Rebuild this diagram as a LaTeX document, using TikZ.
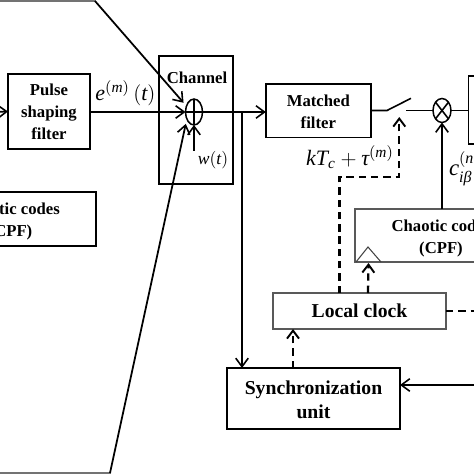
\documentclass[tikz,border=0pt]{standalone}
\usepackage{amsmath}
\usepackage{fontspec}
\setmainfont{Liberation Serif}
\usetikzlibrary{shapes.geometric,arrows.meta,positioning,calc}
\newcommand{\ivar}[1]{\text{\itshape #1}}

\begin{document}
\begin{tikzpicture}[
  x=0.02cm, y=-0.02cm,
  box/.style={rectangle, draw=black, line width=0.85pt, inner sep=0pt,
               outer sep=0pt, align=center},
  thinbox/.style={box, draw=black!65, line width=0.6pt},
  boxtext/.style={inner sep=0pt, outer sep=0pt, align=center,
               font=\fontsize{9.5}{12.5}\selectfont\bfseries},
  bigtext/.style={boxtext, font=\fontsize{11.2}{14}\selectfont\bfseries},
  offbox/.style={rectangle, draw=black!55, line width=1.1pt, inner sep=0pt,
               outer sep=0pt, minimum width=4cm, minimum height=1cm},
  oval/.style={ellipse, draw=black, line width=0.85pt, inner sep=0pt,
               outer sep=0pt},
  arr/.style={-{Straight Barb[length=1.7mm,width=2.5mm,line width=0.9pt]},
               line width=1pt, draw=black},
  wire/.style={line width=0.9pt, draw=black},
  dasharr/.style={-{Straight Barb[length=1.6mm,width=2.4mm,line width=1.1pt]},
               line width=1.3pt, draw=black, dash pattern=on 4.2pt off 2.8pt},
  sym/.style={inner sep=0pt, outer sep=0pt}
]
\useasboundingbox (0,0) rectangle (474,474);
\clip (0,0) rectangle (474,474);

%% Sources cut by the page edge
\node[offbox, anchor=south east] (srcup) at (95,1) {};
\node[offbox, anchor=north east] (srcdn) at (110,473) {};
\coordinate (leftin) at (-12,112);

%% Transmitter side
\node[box, minimum width=1.64cm, minimum height=1.5cm] (pulse) at (49,111.5) {};
\node[boxtext] (pulsetxt) at (pulse.center) {Pulse\\shaping\\filter};
\node[box, minimum width=3.42cm, minimum height=1.08cm] (txcode) at (10.5,219) {};
\node[boxtext, yshift=-1.5pt] (txcodetxt) at (txcode.center) {Chaotic codes\\(CPF)};

%% Channel
\node[box, minimum width=1.48cm, minimum height=2.56cm] (chan) at (196,120) {};
\node[oval, minimum width=0.34cm, minimum height=0.52cm] (sum) at (194,112) {};
\node[boxtext, above=0.42cm of sum.north, anchor=center, xshift=0.06cm]
  (chanlbl) {Channel};
\coordinate[below=0.52cm of sum.south] (wsrc);
\node[sym, font=\fontsize{10}{12}\selectfont] (wlbl) at (213,160)
  {$\ivar{w}(\ivar{t})$};
\node[sym, font=\fontsize{12.5}{15}\selectfont] (elbl) at (125.5,93)
  {$\ivar{e}^{(\ivar{m})}\,(\ivar{t})$};

%% Receiver side
\node[box, minimum width=2.1cm, minimum height=1.07cm] (match) at (318.3,110.5) {};
\node[boxtext, yshift=-1pt] (matchtxt) at (match.center) {Matched\\filter};
\coordinate (swa) at (387,110.5);
\coordinate (swb) at (411,98.3);
\coordinate (swc) at (406,110.5);
\node[oval, minimum width=0.36cm, minimum height=0.48cm] (mix) at (442,110.5) {};
\node[box, minimum width=1.4cm, minimum height=1.36cm, anchor=west] (detect)
  at (468.5,110) {};
\node[thinbox, minimum width=3.44cm, minimum height=1.06cm] (rxcode) at (441,235.5) {};
\node[boxtext, yshift=-1.5pt] (rxcodetxt) at (rxcode.center) {Chaotic codes\\(CPF)};
\node[thinbox, minimum width=3.46cm, minimum height=0.72cm] (clock) at (359.5,311) {};
\node[bigtext] (clocktxt) at (clock.center) {Local clock};
\node[box, minimum width=3.46cm, minimum height=1.22cm] (sync) at (313.5,398.5) {};
\node[bigtext, yshift=-0.8pt] (synctxt) at (sync.center) {Synchronization\\unit};
\node[sym, font=\fontsize{12.5}{14}\selectfont] (tlbl) at (350,157)
  {$\ivar{kT}_{\ivar{c}}+\ivar{τ}^{(\ivar{m})}$};
\node[sym, font=\fontsize{13}{15}\selectfont, anchor=west] (clbl) at (449,169)
  {$\ivar{c}_{\ivar{iβ}}^{(\ivar{n})}$};

%% Clock input of the code generator
\coordinate (tria) at (356,262);
\coordinate (trib) at (368,247);
\coordinate (tric) at (381,262);
\draw[line width=0.6pt, draw=black!75] (tria) -- (trib) -- (tric);

%% Marks inside the two ovals
\draw[wire] (sum.north) -- (sum.south);
\draw[wire] (sum.west) -- (sum.east);
\draw[wire] (mix.52) -- (mix.232);
\draw[wire] (mix.128) -- (mix.-52);

%% Signal path
\draw[arr] (leftin) -- (pulse.west);
\draw[arr] (pulse.east |- sum.west) -- (sum.west);
\draw[arr] (srcup.south east) -- ([shift={(-3,-3)}]sum.140);
\draw[arr] (srcdn.north east) -- ([shift={(-2,3)}]sum.-125);
\draw[arr] (wsrc) -- (sum.south);
\coordinate (tap) at (242,112);
\draw[arr] (sum.east) -- (match.west |- sum.east);
\draw[wire] (match.east) -- (swa) -- (swb);
\draw[wire] (swc) -- (mix.west);
\draw[wire] (mix.east) -- (detect.west |- mix.east);
\draw[arr] (rxcode.north -| mix.south) -- (mix.south);

%% Synchronization path
\coordinate (cornera) at (339.5,177);
\coordinate (cornerb) at (399.3,177);
\coordinate (swtip) at (399.3,117);
\coordinate (clkout) at (482,311);
\coordinate (syncin) at (482,385);
\coordinate (clkdn) at (293,0);
\draw[arr, line width=1.3pt] (tap) -- (tap |- sync.north);
\draw[arr] (syncin) -- (sync.east |- syncin);
\draw[dasharr] (sync.north -| clkdn) -- (clock.south -| clkdn);
\draw[dasharr] (clock.north -| trib) -- ($(tria)!0.5!(tric)+(0,1)$);
\draw[dasharr] (clock.north -| cornera) -- (cornera) -- (cornerb) -- (swtip);
\draw[dasharr, -] (clock.east) -- (clkout);

\end{tikzpicture}
\end{document}
